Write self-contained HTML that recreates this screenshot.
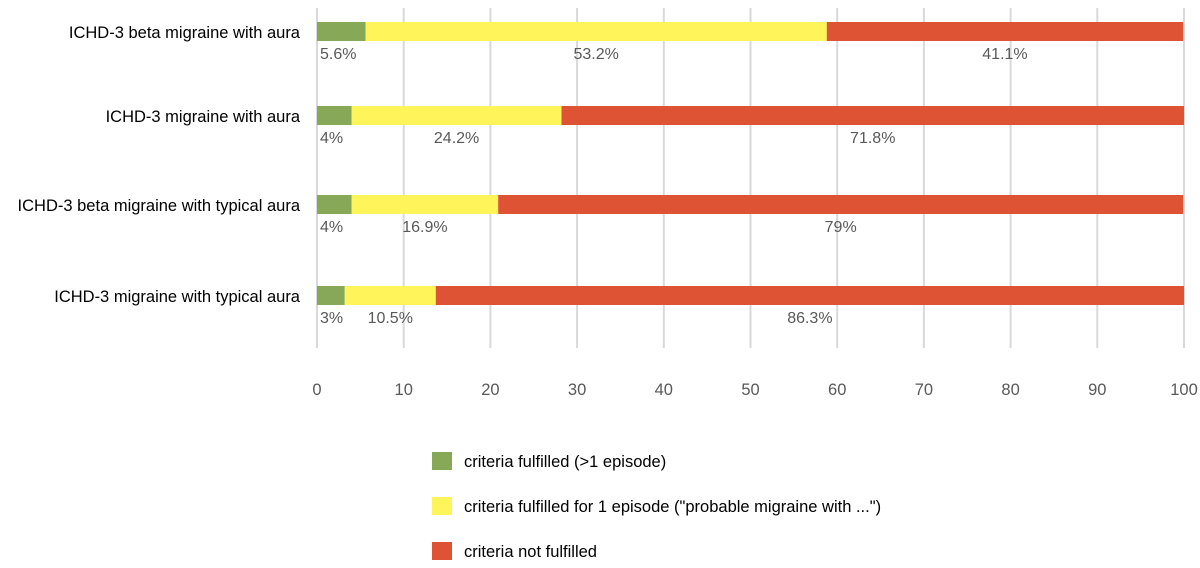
<!DOCTYPE html>
<html><head><meta charset="utf-8"><style>
body{margin:0;background:#fff;font-family:"Liberation Sans",sans-serif;}
svg text{font-family:"Liberation Sans",sans-serif;}
</style></head><body>
<svg id="c" width="1200" height="563" xmlns="http://www.w3.org/2000/svg"></svg>
<script>
const categories=["ICHD-3 beta migraine with aura","ICHD-3 migraine with aura","ICHD-3 beta migraine with typical aura","ICHD-3 migraine with typical aura"];
const fulfilled=[5.6,4,4,3.2];
const oneEpisode=[53.2,24.2,16.9,10.5];
const notFulfilled=[41.1,71.8,79,86.3];
const fulfilledLabels=["5.6%","4%","4%","3%"];
const oneEpisodeLabels=["53.2%","24.2%","16.9%","10.5%"];
const notFulfilledLabels=["41.1%","71.8%","79%","86.3%"];
const ticks=[0,10,20,30,40,50,60,70,80,90,100];
const seriesNames=["criteria fulfilled (>1 episode)","criteria fulfilled for 1 episode (\"probable migraine with ...\")","criteria not fulfilled"];
const colors=["#86a857","#fff55a","#de5334"];
const NS="http://www.w3.org/2000/svg";
const svg=document.getElementById('c');
const x=v=>317+v*8.67;
const rowY=[22,106,195,286];
const y=i=>rowY[i];
function mk(t,a,txt){const e=document.createElementNS(NS,t);for(const k in a)e.setAttribute(k,a[k]);if(txt!==undefined)e.textContent=txt;svg.appendChild(e);return e;}
ticks.forEach(t=>{
 const g=mk('line',{x1:x(t),x2:x(t),y1:8,y2:348,stroke:'#d9d9d9','stroke-width':2});
 
 
 const l=mk('text',{x:x(t),y:395,'text-anchor':'middle','font-size':16.5,fill:'#595959'},t);
 
 
});
const series=[fulfilled,oneEpisode,notFulfilled];
const labs=[fulfilledLabels,oneEpisodeLabels,notFulfilledLabels];
categories.forEach((c,i)=>{
 const cl=mk('text',{x:300,y:y(i)+16,'text-anchor':'end','font-size':16.5,fill:'#000'},c);
 
 
 let acc=0;
 series.forEach((s,j)=>{
  const v=s[i];
  const r=mk('rect',{x:x(acc),y:y(i),width:x(acc+v)-x(acc),height:19,fill:colors[j]});
  
  
  const lx=j===0?x(acc)+3:(x(acc)+x(acc+v))/2;
  const t=mk('text',{x:lx,y:y(i)+37,'text-anchor':j===0?'start':'middle','font-size':16,fill:'#595959'},labs[j][i]);
  
  
  acc+=v;
 });
});
seriesNames.forEach((n,j)=>{
 const yy=452+j*45;
 const r=mk('rect',{x:432,y:yy,width:20,height:18,fill:colors[j]});
 
 
 const t=mk('text',{x:464,y:yy+15,'font-size':16.5,fill:'#000'},n);
 
 
});
</script>
</body></html>
